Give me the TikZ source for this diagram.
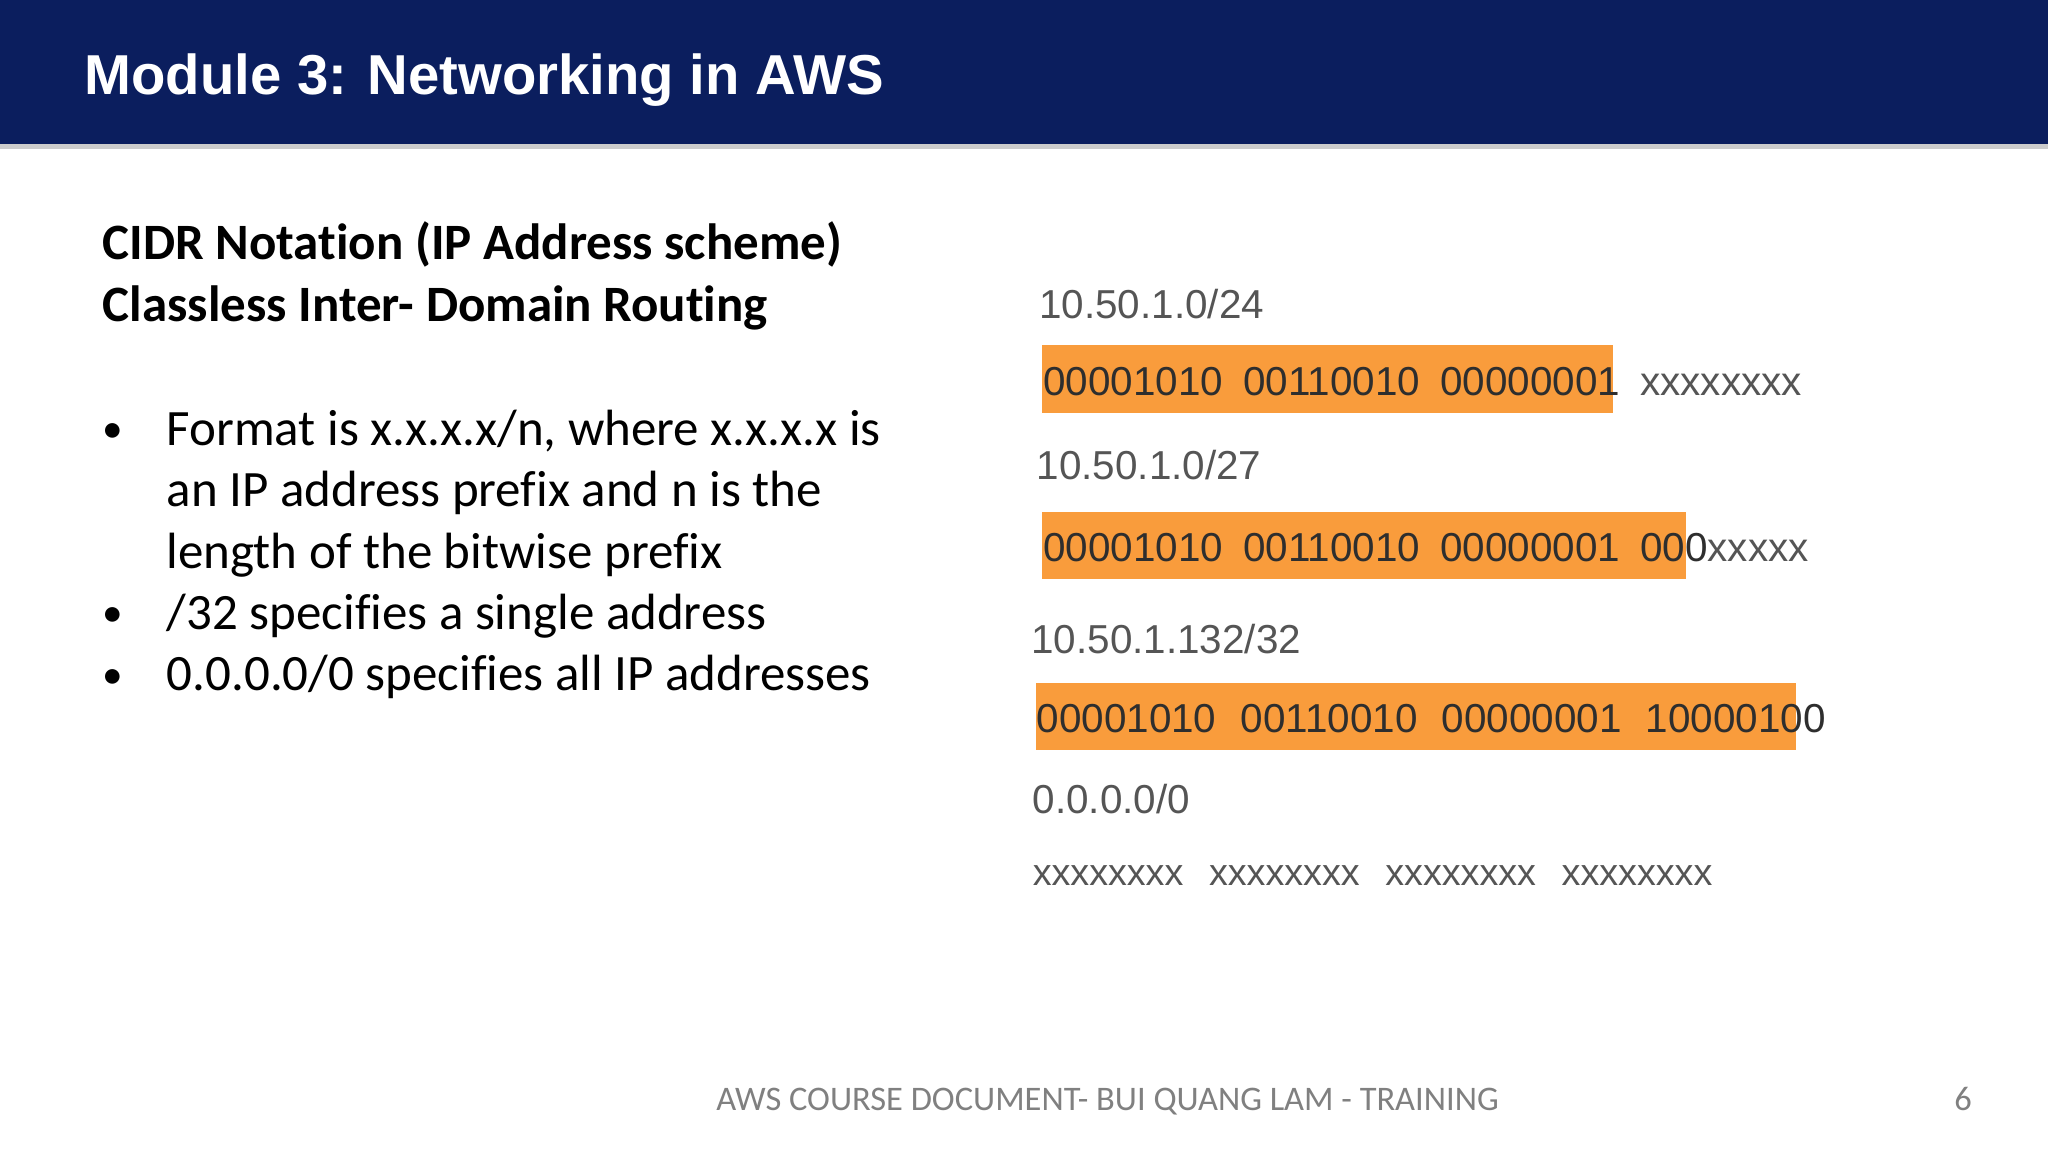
\documentclass[tikz,border=0pt]{standalone}
\usepackage{fontspec}
\setmainfont{Carlito}[Ligatures=NoCommon]
\newfontfamily\arialf{Liberation Sans}
\definecolor{hdr}{HTML}{0B1E5E}
\definecolor{org}{HTML}{F99C3C}
\definecolor{gtxt}{HTML}{555555}
\definecolor{btxt}{HTML}{2E2E2E}
\begin{document}
\begin{tikzpicture}[x=0.01cm,y=-0.01cm,
  lbl/.style={anchor=west,inner sep=0,font=\arialf\fontsize{8.8}{11}\selectfont,text=gtxt},
  bits/.style={anchor=west,inner sep=0,font=\arialf\fontsize{8.8}{11}\selectfont,text=btxt},
  obox/.style={fill=org,draw=none},
  body/.style={anchor=base west,inner sep=0,font=\fontsize{11.1}{14}\selectfont},
  bul/.style={anchor=base west,inner sep=0,font=\fontsize{9}{14}\selectfont}]
\useasboundingbox (0,0) rectangle (1568,882);
\fill[white] (0,0) rectangle (1568,882);
\fill[black!20] (0,110) rectangle (1568,114);
\fill[hdr] (0,0) rectangle (1568,110);
\node[anchor=base west,inner sep=0,text=white,font=\arialf\bfseries\fontsize{12.25}{15}\selectfont] (title) at (64,72) {Module 3: Networking in AWS};
\node[body,font=\bfseries\fontsize{11.1}{14}\selectfont] (h1) at (78,199) {CIDR Notation (IP Address scheme)};
\node[body,font=\bfseries\fontsize{11.1}{14}\selectfont] (h2) at (78,246) {Classless Inter- Domain Routing};
\node[bul] (b1) at (78,339) {\textbullet};
\node[body] (t1) at (127,341) {Format is x.x.x.x/n, where x.x.x.x is};
\node[body] (t2) at (127,388) {an IP address prefix and n is the};
\node[body] (t3) at (127,435) {length of the bitwise prefix};
\node[bul] (b2) at (78,480) {\textbullet};
\node[body] (t4) at (127,482) {/32 specifies a single address};
\node[bul] (b3) at (78,527) {\textbullet};
\node[body] (t5) at (127,529) {0.0.0.0/0 specifies all IP addresses};
% right
\node[lbl] (l1) at (795,233) {10.50.1.0/24};
\fill[obox] (798,264) rectangle (1235,316);
\node[bits] (r1) at (798,292) {00001010\hspace{0.5em}00110010\hspace{0.5em}00000001\hspace{0.5em}\textcolor{gtxt}{xxxxxxxx}};
\node[lbl] (l2) at (793,356) {10.50.1.0/27};
\fill[obox] (798,392) rectangle (1291,443);
\node[bits] (r2) at (798,419) {00001010\hspace{0.5em}00110010\hspace{0.5em}00000001\hspace{0.5em}000\textcolor{gtxt}{xxxxx}};
\node[lbl] (l3) at (789,489) {10.50.1.132/32};
\fill[obox] (793,523) rectangle (1375,574);
\node[bits] (r3) at (793,550) {00001010\hspace{0.6em}00110010\hspace{0.6em}00000001\hspace{0.6em}10000100};
\node[lbl] (l4) at (790,612) {0.0.0.0/0};
\node[lbl,font=\arialf\fontsize{8.2}{11}\selectfont] (x1) at (790,670) {xxxxxxxx};
\node[lbl,font=\arialf\fontsize{8.2}{11}\selectfont] (x2) at (925,670) {xxxxxxxx};
\node[lbl,font=\arialf\fontsize{8.2}{11}\selectfont] (x3) at (1060,670) {xxxxxxxx};
\node[lbl,font=\arialf\fontsize{8.2}{11}\selectfont] (x4) at (1195,670) {xxxxxxxx};
\node[anchor=base,inner sep=0,text=black!50,font=\fontsize{7.5}{10}\selectfont] (foot) at (848,850) {AWS COURSE DOCUMENT- BUI QUANG LAM - TRAINING};
\node[anchor=base,inner sep=0,text=black!50,font=\fontsize{7.5}{10}\selectfont] (pg) at (1503,850) {6};
\end{tikzpicture}
\end{document}
